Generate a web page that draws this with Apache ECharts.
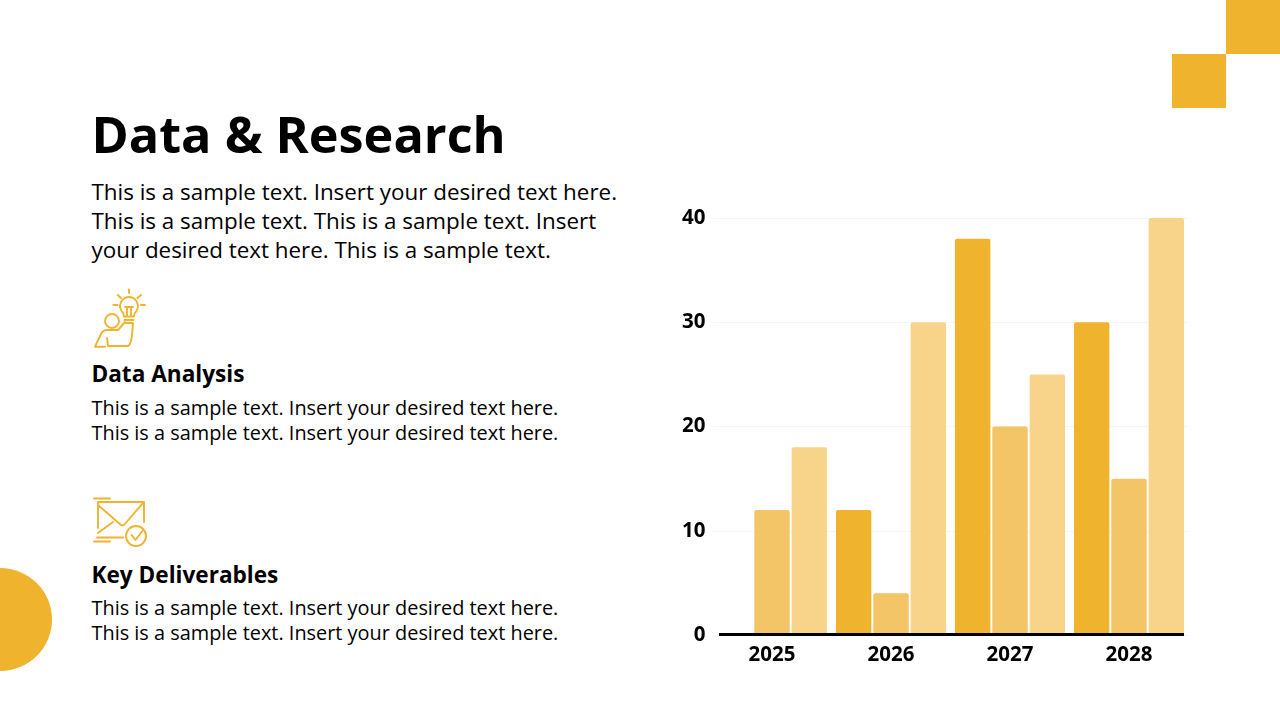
<!DOCTYPE html>
<html>
<head>
<meta charset="utf-8">
<title>Data & Research</title>
<script src="https://cdn.jsdelivr.net/npm/echarts@6/dist/echarts.min.js"></script>
<style>
  html, body { margin: 0; padding: 0; background: #fff; }
  #slide { position: relative; width: 1280px; height: 720px; overflow: hidden; font-family: "Open Sans", sans-serif; color: #000; }
  #chart { position: absolute; left: 0; top: 0; width: 1280px; height: 720px; }
  .txt { position: absolute; left: 91.5px; white-space: nowrap; }
  .title { top: 97px; font-size: 50.4px; line-height: 74px; font-weight: 700; }
  .lead { top: 177px; font-size: 22.4px; line-height: 29px; }
  .head { font-size: 22.6px; line-height: 30px; font-weight: 700; }
  .body { font-size: 19.9px; line-height: 25px; }
  .sq { position: absolute; width: 54px; height: 54px; background: #F0B32D; }
  .dot { position: absolute; left: -52px; top: 568px; width: 104px; height: 103px; border-radius: 50%; background: #F0B32D; }
  svg { position: absolute; left: 0; top: 0; }
  svg * { fill: none; stroke: #F0B32D; stroke-width: 1.9; stroke-linecap: round; stroke-linejoin: round; }
</style>
</head>
<body>
<div id="slide">
  <div class="sq" style="left:1226px;top:0"></div>
  <div class="sq" style="left:1172px;top:54px"></div>
  <div class="dot"></div>

  <div class="txt title">Data &amp; Research</div>
  <div class="txt lead">This is a sample text. Insert your desired text here.<br>This is a sample text. This is a sample text. Insert<br>your desired text here. This is a sample text.</div>

  <div class="txt head" style="top:359px">Data Analysis</div>
  <div class="txt body" style="top:395px">This is a sample text. Insert your desired text here.<br>This is a sample text. Insert your desired text here.</div>

  <div class="txt head" style="top:560px">Key Deliverables</div>
  <div class="txt body" style="top:595px">This is a sample text. Insert your desired text here.<br>This is a sample text. Insert your desired text here.</div>

  <svg width="1280" height="720">
    <!-- person with bulb -->
    <circle cx="112" cy="321" r="7"/>
    <path d="M95,346.7 L101,334 Q103,330 107,330 L118,330 L125,322 M133,323 L132,335 Q131,345 128,346 L108,346 L107,338 M95,346.7 L105,346.7"/>
    <path d="M124,316.5 Q124,313 121.5,311 A9,9 0 1 1 136.5,311 Q134,313 134,316.5 Z M124.5,320 L133.5,320 M126,323 L132,323 M127,316 L127,307 M131,316 L131,307 M125,307 L133,307"/>
    <path d="M129,289.5 L129,293 M117.7,295 L121,298 M141,295 L137.3,298 M113.3,305 L117.5,305 M141,305 L145,305"/>
    <!-- mail with check -->
    <path d="M98,502 L144,502 L144,522 M98,502 L98,528 M123,537.5 L97,537.5 M98,505 L121,525 Q122,526 124,525 L143,503 M98,533 L113,522"/>
    <path d="M94,498.5 L110,498.5 M94,541.5 L110,541.5"/>
    <circle cx="136" cy="536" r="10"/>
    <path d="M131.5,535 L135.5,540 L143,530"/>
  </svg>

  <div id="chart"></div>
</div>

<script>
const chart = echarts.init(document.getElementById("chart"));

const years = ["2025", "2026", "2027", "2028"];
const seriesData = [
  { color: "#F0B32D", values: [null, 12, 38, 30] },
  { color: "#F4C566", values: [12, 4, 20, 15] },
  { color: "#F8D48B", values: [18, 30, 25, 40] },
];

const labelFont = { fontFamily: "Open Sans", fontWeight: 700, fontSize: 20.5, color: "#000" };

chart.setOption({
  animation: false,
  grid: { left: 712.5, top: 218, width: 476, height: 417, containLabel: false },
  xAxis: {
    type: "category",
    data: years,
    axisLine: { show: false },
    axisTick: { show: false },
    axisLabel: { ...labelFont, margin: 10 },
  },
  yAxis: {
    type: "value",
    min: 0,
    max: 40,
    interval: 10,
    axisLine: { show: false },
    axisTick: { show: false },
    axisLabel: { ...labelFont, margin: 7, padding: [4, 0, 0, 0] },
    splitLine: { lineStyle: { color: "#f5f5f5", width: 1 } },
  },
  series: seriesData.map(s => ({
    type: "bar",
    data: s.values,
    barGap: "5.5%",
    barCategoryGap: "7.5%",
    itemStyle: { color: s.color, borderRadius: [2, 2, 0, 0] },
  })),
  graphic: [{
    type: "line",
    z: 100,
    shape: { x1: 719, y1: 634.5, x2: 1184, y2: 634.5 },
    style: { stroke: "#000", lineWidth: 3 },
  }],
});
</script>
</body>
</html>
